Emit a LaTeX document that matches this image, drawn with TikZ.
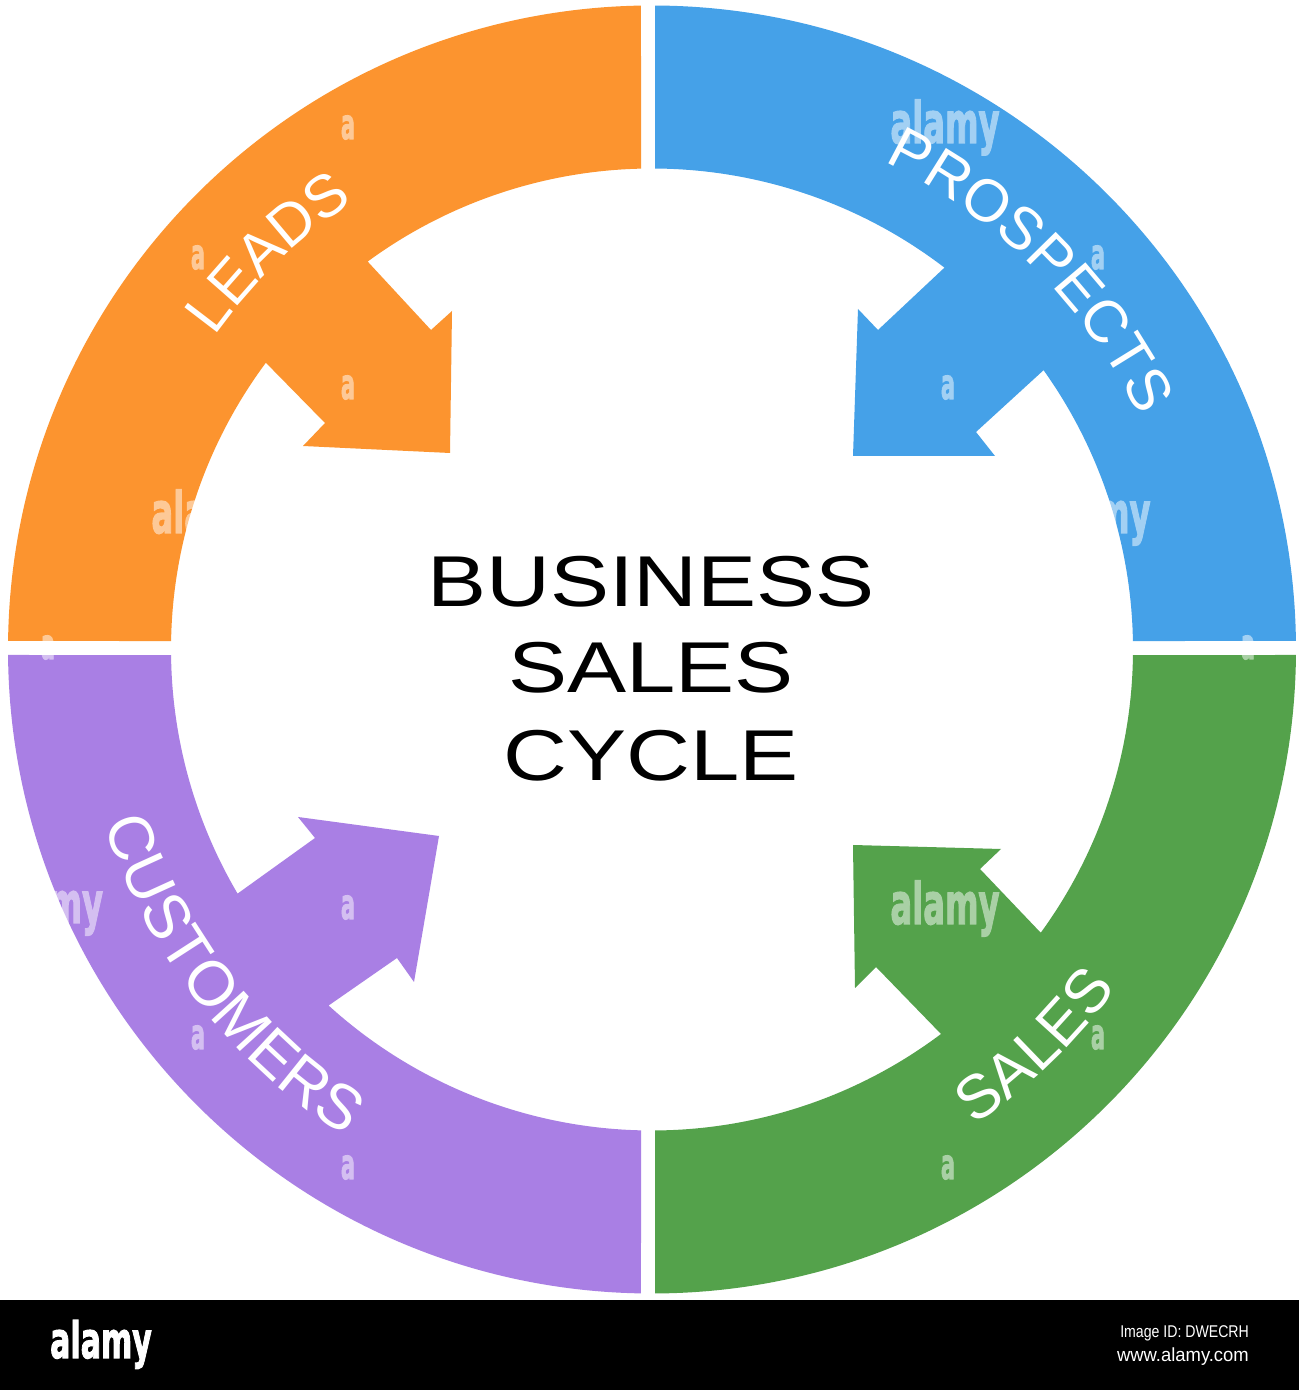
\documentclass[tikz,border=0pt]{standalone}
\usepackage{fontspec}
\setmainfont{Liberation Sans}
\newfontfamily\wmfont[FakeBold=2.5]{DejaVu Sans}
\usetikzlibrary{decorations.text}
\definecolor{segorange}{HTML}{FC942F}
\definecolor{segblue}{HTML}{45A1E8}
\definecolor{seggreen}{HTML}{54A24B}
\definecolor{segpurple}{HTML}{A97FE4}
\newcommand\ringtop{\fontsize{59.5}{62}\selectfont\color{white}}
\newcommand\ringlow{\fontsize{63}{66}\selectfont\color{white}}
\newcommand\ringsales{\fontsize{61.5}{66}\selectfont\color{white}}
\tikzset{
  wmbig/.style={anchor=base,text=white,xscale=.565,font=\wmfont\bfseries\fontsize{57}{57}\selectfont},
  wmsmall/.style={anchor=base,text=white,xscale=.5,font=\wmfont\bfseries\fontsize{42}{42}\selectfont},
  title/.style={anchor=base,text=black,xscale=1.23,font=\fontsize{72}{72}\selectfont,inner sep=0pt},
  ringcw/.style={decorate,decoration={text along path,text align=center,text={#1}}}
}
\begin{document}
\begin{tikzpicture}[x=1pt,y=1pt]
\useasboundingbox (0,0) rectangle (1299,1390);
\fill[white] (0,0) rectangle (1299,1390);
\coordinate (c) at (652,740.5);
% segments
\fill[segorange] ([shift={(179.24:644pt)}]c) arc[start angle=179.24,end angle=90.98,radius=644pt]
  -- ([shift={(91.31:481pt)}]c) arc[start angle=91.31,end angle=126.24,radius=481pt]
  -- (431,1060) -- (452,1079) -- (450,937) -- (303,944) -- (325,967)
  -- ([shift={(143.4:481pt)}]c) arc[start angle=143.4,end angle=178.99,radius=481pt] -- cycle;
\fill[segblue] ([shift={(89.73:644pt)}]c) arc[start angle=89.73,end angle=0.76,radius=644pt]
  -- ([shift={(1.01:481pt)}]c) arc[start angle=1.01,end angle=35.5,radius=481pt]
  -- (976,958) -- (995,934) -- (853,934) -- (858,1081) -- (878,1060)
  -- ([shift={(52.55:481pt)}]c) arc[start angle=52.55,end angle=89.64,radius=481pt] -- cycle;
\fill[seggreen] ([shift={(-0.49:644pt)}]c) arc[start angle=-0.49,end angle=-89.73,radius=644pt]
  -- ([shift={(-89.64:481pt)}]c) arc[start angle=-89.64,end angle=-53.07,radius=481pt]
  -- (876,423) -- (855,402) -- (853,545) -- (1001,541) -- (980,521)
  -- ([shift={(-36.08:481pt)}]c) arc[start angle=-36.08,end angle=-0.66,radius=481pt] -- cycle;
\fill[segpurple] ([shift={(180.49:644pt)}]c) -- ([shift={(180.66:481pt)}]c) arc[start angle=180.66,end angle=210.5,radius=481pt]
  -- (315,552) -- (298,573) -- (439,554) -- (414,408) -- (397,432)
  -- ([shift={(227.75:481pt)}]c) arc[start angle=227.75,end angle=268.69,radius=481pt]
  -- ([shift={(269.02:644pt)}]c) arc[start angle=269.02,end angle=180.49,radius=644pt] -- cycle;
% watermarks
\begin{scope}[transparency group,opacity=.5]
\clip (0,0) rectangle (1299,1390);
\node[wmbig] (wa) at (945,1247) {alamy};
\node[wmbig] (wb) at (945,466) {alamy};
\node[wmbig] (wc) at (206,857) {alamy};
\node[wmbig] (wd) at (1096,857) {alamy};
\node[wmbig] (we) at (48.5,467) {alamy};
\node[wmsmall] (a1) at (348,1251) {a};
\node[wmsmall] (a2) at (198,1121) {a};
\node[wmsmall] (a3) at (348,991) {a};
\node[wmsmall] (a4) at (1098,1121) {a};
\node[wmsmall] (a5) at (948,991) {a};
\node[wmsmall] (a6) at (48,731) {a};
\node[wmsmall] (a7) at (1248,731) {a};
\node[wmsmall] (a8) at (348,471) {a};
\node[wmsmall] (a9) at (198,341) {a};
\node[wmsmall] (a10) at (348,211) {a};
\node[wmsmall] (a11) at (1098,341) {a};
\node[wmsmall] (a12) at (948,211) {a};
\end{scope}
% ring labels
\path[ringcw={|\ringtop|PROSPECTS}] ([shift={(79:540pt)}]c) arc[start angle=79,end angle=11,radius=540pt];
\path[ringcw={|\ringtop|LEADS}] ([shift={(170:538pt)}]c) arc[start angle=170,end angle=98,radius=538pt];
\path[ringcw={|\ringsales|SALES}] ([shift={(-80:575pt)}]c) arc[start angle=-80,end angle=-12,radius=575pt];
\path[ringcw={|\ringlow|CUSTOMERS}] ([shift={(184:575pt)}]c) arc[start angle=184,end angle=251.4,radius=575pt];
% centre title
\node[title] (t1) at (651,783) {BUSINESS};
\node[title] (t2) at (651,697) {SALES};
\node[title] (t3) at (651,609) {CYCLE};
% footer
\fill[black] (0,0) rectangle (1299,90);
\node[anchor=base,text=white,xscale=.6,font=\wmfont\bfseries\fontsize{50}{50}\selectfont,inner sep=0pt] (logo) at (101,32) {alamy};
\node[anchor=base east,text=white,xscale=.83,font=\fontsize{17}{17}\selectfont,inner sep=0pt] (imgid) at (1249,52) {Image ID: DWECRH};
\node[anchor=base east,text=white,xscale=.97,font=\fontsize{19}{19}\selectfont,inner sep=0pt] (web) at (1249,28) {www.alamy.com};
\end{tikzpicture}
\end{document}
